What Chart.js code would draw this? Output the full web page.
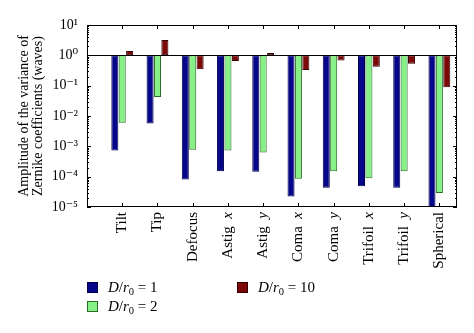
<!DOCTYPE html>
<html>
<head>
<meta charset="utf-8">
<script src="https://cdn.jsdelivr.net/npm/chart.js@4.4.0/dist/chart.umd.min.js"></script>
<style>
    html, body { margin: 0; padding: 0; background: #fff; }
    #wrap { width: 474px; height: 333px; }
</style>
</head>
<body>
<div id="wrap"><canvas id="zernikeChart"></canvas></div>
<script>
// Zernike modes, one group of bars per mode
const modes = ['Tilt', 'Tip', 'Defocus', 'Astig x', 'Astig y', 'Coma x', 'Coma y', 'Trifoil x', 'Trifoil y', 'Spherical'];

// Variance amplitude (waves) for each D/r0
const ratios = [1, 2, 10];
const varRatio1 = [7.3e-4, 5.7e-3, 8e-5, 1.5e-4, 1.45e-4, 2.2e-5, 4.3e-5, 4.8e-5, 4.3e-5, 9.5e-6];
const varRatio2 = [6e-3, 4.2e-2, 7.7e-4, 7.3e-4, 6.3e-4, 8.5e-5, 1.5e-4, 8.9e-5, 1.5e-4, 2.9e-5];
const varRatio10 = [1.4, 3.2, 0.35, 0.65, 1.19, 0.33, 0.68, 0.42, 0.53, 0.089];

// Decade ticks on the y axis
const yTickExponents = [-5, -4, -3, -2, -1, 0, 1];

const SERIF = "'Liberation Serif', 'DejaVu Serif', serif";
const fills = ['#06068a', '#86f086', '#7c0808'];
const strokes = ['#00004a', '#2a6a2a', '#300000'];

const SUP = { '-': '\u207B', '0': '\u2070', '1': '\u00B9', '2': '\u00B2', '3': '\u00B3', '4': '\u2074', '5': '\u2075' };
function toSup(n) {
    return String(n).split('').map(c => SUP[c] || c).join('');
}

// Splits "Astig x" into a roman part and an italic axis letter
function labelParts(name) {
    const m = name.match(/^(.*) ([xy])$/);
    if (m) return [{ text: m[1] + '  ', italic: false }, { text: m[2], italic: true }];
    return [{ text: name, italic: false }];
}

function drawParts(ctx, parts, x, y, size) {
    let cx = x;
    parts.forEach(p => {
        const fs = p.sub ? size * 0.7 : size;
        ctx.font = (p.italic ? 'italic ' : '') + fs + 'px ' + SERIF;
        ctx.fillText(p.text, cx, y + (p.sub ? size * 0.25 : 0));
        cx += ctx.measureText(p.text).width;
    });
    return cx - x;
}

function partsWidth(ctx, parts, size) {
    let w = 0;
    parts.forEach(p => {
        const fs = p.sub ? size * 0.7 : size;
        ctx.font = (p.italic ? 'italic ' : '') + fs + 'px ' + SERIF;
        w += ctx.measureText(p.text).width;
    });
    return w;
}

// Box, inward ticks and the reference line at 10^0
const framePlugin = {
    id: 'frame',
    afterDatasetsDraw(chart) {
        const { ctx, chartArea: a, scales: { x, y } } = chart;
        ctx.save();
        ctx.strokeStyle = '#000';
        ctx.lineWidth = 1;
        ctx.beginPath();
        const y1 = Math.round(y.getPixelForValue(1)) + 0.5;
        ctx.moveTo(a.left, y1);
        ctx.lineTo(a.right, y1);

        for (let e = -5; e <= 0; e++) {
            for (let m = 1; m <= 10; m++) {
                const py = Math.round(y.getPixelForValue(m * Math.pow(10, e))) + 0.5;
                const len = (m === 1 || m === 10) ? 4 : 2;
                ctx.moveTo(a.left, py); ctx.lineTo(a.left + len, py);
                ctx.moveTo(a.right, py); ctx.lineTo(a.right - len, py);
            }
        }
        modes.forEach((_, i) => {
            const px = Math.round(x.getPixelForValue(i + 1)) + 0.5;
            ctx.moveTo(px, a.top); ctx.lineTo(px, a.top + 4);
            ctx.moveTo(px, a.bottom); ctx.lineTo(px, a.bottom - 4);
        });
        ctx.stroke();
        ctx.strokeRect(a.left + 0.5, a.top + 0.5, a.right - a.left - 1, a.bottom - a.top - 1);
        ctx.restore();
    },
    afterDraw(chart) {
        const { ctx, chartArea: a, scales: { x } } = chart;
        ctx.save();
        ctx.fillStyle = '#000';
        ctx.textBaseline = 'middle';

        // rotated mode names under the axis
        modes.forEach((name, i) => {
            const parts = labelParts(name);
            const px = x.getPixelForValue(i + 1);
            ctx.save();
            ctx.translate(px, a.bottom + 5);
            ctx.rotate(-Math.PI / 2);
            const w = partsWidth(ctx, parts, 15);
            drawParts(ctx, parts, -w, 0, 15);
            ctx.restore();
        });

        // legend: two columns
        const spots = [[87, 282], [87, 301], [237, 282]];
        chart.data.datasets.forEach((ds, i) => {
            const [lx, ly] = spots[i];
            ctx.fillStyle = ds.backgroundColor;
            ctx.fillRect(lx, ly, 11, 11);
            ctx.strokeStyle = ds.borderColor;
            ctx.strokeRect(lx + 0.5, ly + 0.5, 10, 10);
            ctx.fillStyle = '#000';
            drawParts(ctx, [
                { text: 'D', italic: true },
                { text: '/', italic: false },
                { text: 'r', italic: true },
                { text: '0', sub: true },
                { text: ' = ' + ratios[i], italic: false }
            ], lx + 21, ly + 6, 15);
        });
        ctx.restore();
    }
};

function initializeChart() {
    const canvas = document.getElementById('zernikeChart');
    const series = [varRatio1, varRatio2, varRatio10];

    new Chart(canvas.getContext('2d'), {
        type: 'bar',
        data: {
            datasets: series.map((values, i) => ({
                label: 'D/r0 = ' + ratios[i],
                data: values.map((v, k) => ({ x: k + 1, y: v })),
                base: 1,
                backgroundColor: fills[i],
                borderColor: strokes[i],
                borderWidth: 1,
                borderSkipped: false,
                barPercentage: 0.95,
                categoryPercentage: 0.63,
                clip: 0
            }))
        },
        options: {
            responsive: true,
            maintainAspectRatio: false,
            animation: false,
            layout: { padding: { left: 0, right: 17, top: 25, bottom: 0 } },
            plugins: {
                legend: { display: false },
                tooltip: { enabled: false }
            },
            scales: {
                x: {
                    type: 'linear',
                    offset: false,
                    min: 0,
                    max: 10.5,
                    grid: { display: false, drawTicks: false, offset: false },
                    border: { display: false },
                    ticks: { display: false },
                    afterFit: s => { s.height = 126; }
                },
                y: {
                    type: 'logarithmic',
                    min: 1e-5,
                    max: 10,
                    afterBuildTicks: s => {
                        s.ticks = yTickExponents.map(e => ({ value: Number('1e' + e), major: true }));
                    },
                    ticks: {
                        autoSkip: false,
                        padding: 9,
                        color: '#000',
                        font: { family: SERIF, size: 14 },
                        callback: v => '10' + toSup(Math.round(Math.log10(v)))
                    },
                    grid: { display: false, drawTicks: false },
                    border: { display: false },
                    title: {
                        display: true,
                        text: ['Amplitude of the variance of', 'Zernike coefficients (waves)'],
                        color: '#000',
                        font: { family: SERIF, size: 14, lineHeight: 0.95 },
                        padding: { top: 18, bottom: 0 }
                    },
                    afterFit: s => { s.width = 87; }
                }
            }
        },
        plugins: [framePlugin]
    });
}

document.addEventListener('DOMContentLoaded', initializeChart);
</script>
</body>
</html>
